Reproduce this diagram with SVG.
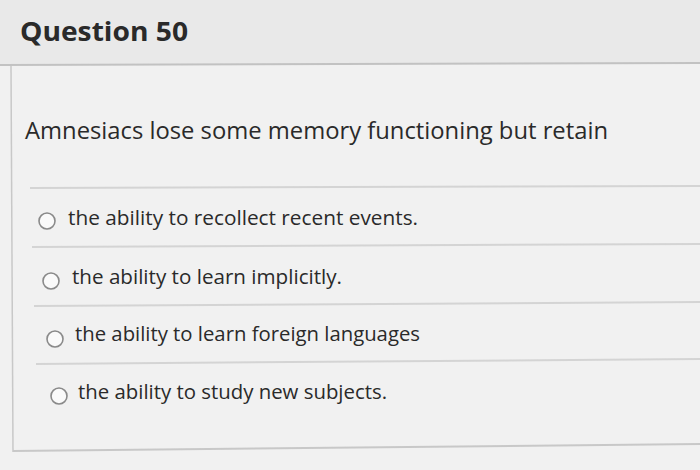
<svg xmlns="http://www.w3.org/2000/svg" width="700" height="470" viewBox="0 0 700 470">
<style>
.t{font-family:"Open Sans","Liberation Sans",sans-serif;fill:#2a2a2a}
.o{font-size:20px}
.sep{stroke:#d4d4d4;stroke-width:2}
.r{fill:#fafafa;stroke:#8a8a8a;stroke-width:1.6}
</style>
<rect width="700" height="470" fill="#f1f1f1"/>
<rect width="700" height="64" fill="#e9e9e9"/>
<line x1="0" y1="65" x2="700" y2="63" stroke="#c2c2c2" stroke-width="2"/>
<line x1="11" y1="66" x2="13" y2="452" stroke="#c8c8c8" stroke-width="1.5"/>
<line x1="13" y1="451" x2="700" y2="444" stroke="#c8c8c8" stroke-width="2"/>
<text class="t" x="20" y="41" font-size="27" font-weight="bold" textLength="168" lengthAdjust="spacingAndGlyphs">Question 50</text>
<text class="t" x="25" y="139" font-size="23" textLength="583" lengthAdjust="spacingAndGlyphs">Amnesiacs lose some memory functioning but retain</text>
<line class="sep" x1="30" y1="188" x2="700" y2="186"/>
<line class="sep" x1="32" y1="247" x2="700" y2="244"/>
<line class="sep" x1="34" y1="306" x2="700" y2="302"/>
<line class="sep" x1="36" y1="364" x2="700" y2="359"/>
<circle class="r" cx="47" cy="221" r="8"/>
<circle class="r" cx="51" cy="281" r="8"/>
<circle class="r" cx="55" cy="339" r="8"/>
<circle class="r" cx="59" cy="396" r="8"/>
<text class="t o" x="68" y="225" textLength="350" lengthAdjust="spacingAndGlyphs">the ability to recollect recent events.</text>
<text class="t o" x="72" y="284" textLength="270" lengthAdjust="spacingAndGlyphs">the ability to learn implicitly.</text>
<text class="t o" x="75" y="341" textLength="345" lengthAdjust="spacingAndGlyphs">the ability to learn foreign languages</text>
<text class="t o" x="78" y="399" textLength="309" lengthAdjust="spacingAndGlyphs">the ability to study new subjects.</text>
</svg>
